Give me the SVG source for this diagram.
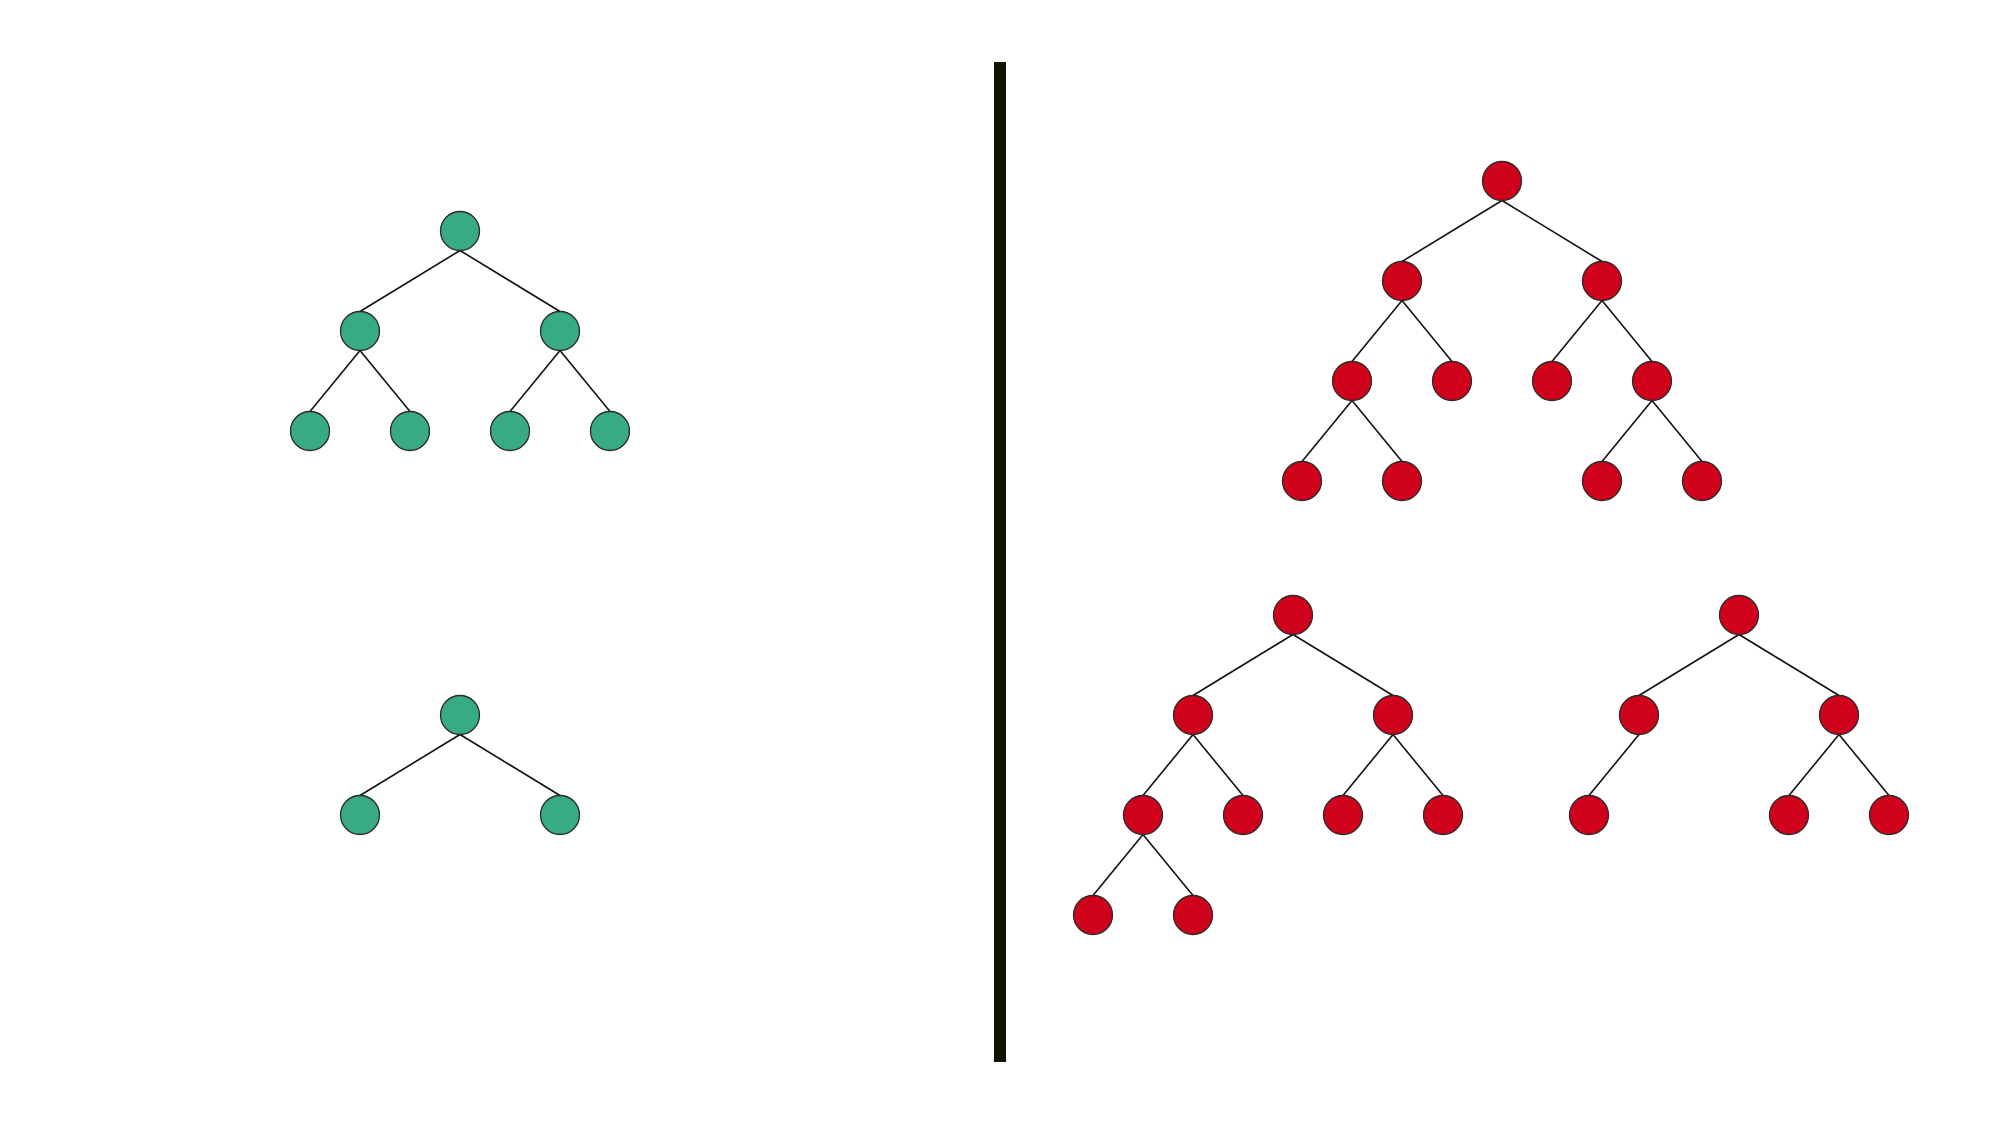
<svg xmlns="http://www.w3.org/2000/svg" width="2000" height="1125" viewBox="0 0 2000 1125">
<style>
.g{fill:#38AA84;stroke:#2b2b2b;stroke-width:1.3}
.r{fill:#D0021B;stroke:#2b2b2b;stroke-width:1.3}
.e{stroke:#111;stroke-width:1.6;fill:none}
</style>
<rect width="2000" height="1125" fill="#fff"/>
<rect id="divider" x="994" y="62" width="12" height="1000" fill="#121200"/>
<g id="connectors" class="e">
<!-- green tree 1 -->
<line x1="460" y1="250.5" x2="360" y2="311.5"/>
<line x1="460" y1="250.5" x2="560" y2="311.5"/>
<line x1="360" y1="350.5" x2="310" y2="411.5"/>
<line x1="360" y1="350.5" x2="410" y2="411.5"/>
<line x1="560" y1="350.5" x2="510" y2="411.5"/>
<line x1="560" y1="350.5" x2="610" y2="411.5"/>
<!-- green tree 2 -->
<line x1="460" y1="734.5" x2="360" y2="795.5"/>
<line x1="460" y1="734.5" x2="560" y2="795.5"/>
<!-- red tree 1 -->
<line x1="1502" y1="200.5" x2="1402" y2="261.5"/>
<line x1="1502" y1="200.5" x2="1602" y2="261.5"/>
<line x1="1402" y1="300.5" x2="1352" y2="361.5"/>
<line x1="1402" y1="300.5" x2="1452" y2="361.5"/>
<line x1="1602" y1="300.5" x2="1552" y2="361.5"/>
<line x1="1602" y1="300.5" x2="1652" y2="361.5"/>
<line x1="1352" y1="400.5" x2="1302" y2="461.5"/>
<line x1="1352" y1="400.5" x2="1402" y2="461.5"/>
<line x1="1652" y1="400.5" x2="1602" y2="461.5"/>
<line x1="1652" y1="400.5" x2="1702" y2="461.5"/>
<!-- red tree 2 -->
<line x1="1293" y1="634.5" x2="1193" y2="695.5"/>
<line x1="1293" y1="634.5" x2="1393" y2="695.5"/>
<line x1="1193" y1="734.5" x2="1143" y2="795.5"/>
<line x1="1193" y1="734.5" x2="1243" y2="795.5"/>
<line x1="1393" y1="734.5" x2="1343" y2="795.5"/>
<line x1="1393" y1="734.5" x2="1443" y2="795.5"/>
<line x1="1143" y1="834.5" x2="1093" y2="895.5"/>
<line x1="1143" y1="834.5" x2="1193" y2="895.5"/>
<!-- red tree 3 -->
<line x1="1739" y1="634.5" x2="1639" y2="695.5"/>
<line x1="1739" y1="634.5" x2="1839" y2="695.5"/>
<line x1="1639" y1="734.5" x2="1589" y2="795.5"/>
<line x1="1839" y1="734.5" x2="1789" y2="795.5"/>
<line x1="1839" y1="734.5" x2="1889" y2="795.5"/>
</g>
<g id="g1-root"><circle class="g" cx="460" cy="231" r="19.5"/></g>
<g id="g1-l"><circle class="g" cx="360" cy="331" r="19.5"/></g>
<g id="g1-r"><circle class="g" cx="560" cy="331" r="19.5"/></g>
<g id="g1-ll"><circle class="g" cx="310" cy="431" r="19.5"/></g>
<g id="g1-lr"><circle class="g" cx="410" cy="431" r="19.5"/></g>
<g id="g1-rl"><circle class="g" cx="510" cy="431" r="19.5"/></g>
<g id="g1-rr"><circle class="g" cx="610" cy="431" r="19.5"/></g>
<g id="g2-root"><circle class="g" cx="460" cy="715" r="19.5"/></g>
<g id="g2-l"><circle class="g" cx="360" cy="815" r="19.5"/></g>
<g id="g2-r"><circle class="g" cx="560" cy="815" r="19.5"/></g>
<g id="r1-root"><circle class="r" cx="1502" cy="181" r="19.5"/></g>
<g id="r1-l"><circle class="r" cx="1402" cy="281" r="19.5"/></g>
<g id="r1-r"><circle class="r" cx="1602" cy="281" r="19.5"/></g>
<g id="r1-ll"><circle class="r" cx="1352" cy="381" r="19.5"/></g>
<g id="r1-lr"><circle class="r" cx="1452" cy="381" r="19.5"/></g>
<g id="r1-rl"><circle class="r" cx="1552" cy="381" r="19.5"/></g>
<g id="r1-rr"><circle class="r" cx="1652" cy="381" r="19.5"/></g>
<g id="r1-lll"><circle class="r" cx="1302" cy="481" r="19.5"/></g>
<g id="r1-llr"><circle class="r" cx="1402" cy="481" r="19.5"/></g>
<g id="r1-rrl"><circle class="r" cx="1602" cy="481" r="19.5"/></g>
<g id="r1-rrr"><circle class="r" cx="1702" cy="481" r="19.5"/></g>
<g id="r2-root"><circle class="r" cx="1293" cy="615" r="19.5"/></g>
<g id="r2-l"><circle class="r" cx="1193" cy="715" r="19.5"/></g>
<g id="r2-r"><circle class="r" cx="1393" cy="715" r="19.5"/></g>
<g id="r2-ll"><circle class="r" cx="1143" cy="815" r="19.5"/></g>
<g id="r2-lr"><circle class="r" cx="1243" cy="815" r="19.5"/></g>
<g id="r2-rl"><circle class="r" cx="1343" cy="815" r="19.5"/></g>
<g id="r2-rr"><circle class="r" cx="1443" cy="815" r="19.5"/></g>
<g id="r2-lll"><circle class="r" cx="1093" cy="915" r="19.5"/></g>
<g id="r2-llr"><circle class="r" cx="1193" cy="915" r="19.5"/></g>
<g id="r3-root"><circle class="r" cx="1739" cy="615" r="19.5"/></g>
<g id="r3-l"><circle class="r" cx="1639" cy="715" r="19.5"/></g>
<g id="r3-r"><circle class="r" cx="1839" cy="715" r="19.5"/></g>
<g id="r3-ll"><circle class="r" cx="1589" cy="815" r="19.5"/></g>
<g id="r3-rl"><circle class="r" cx="1789" cy="815" r="19.5"/></g>
<g id="r3-rr"><circle class="r" cx="1889" cy="815" r="19.5"/></g>
</svg>
